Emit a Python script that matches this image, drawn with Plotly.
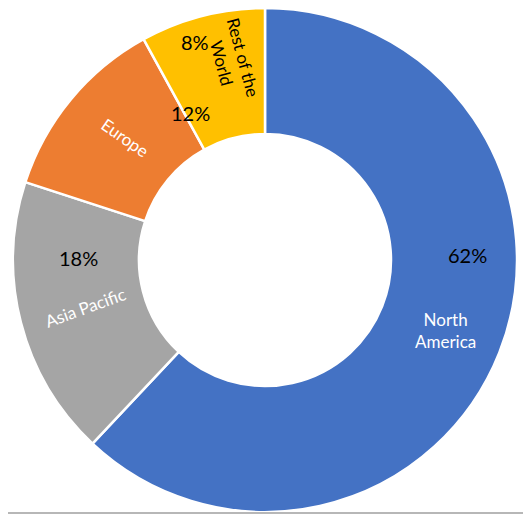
import plotly.graph_objects as go

regions = ['North America', 'Asia Pacific', 'Europe', 'Rest of the World']
shares = [62, 18, 12, 8]
colors = ['#4472C4', '#A5A5A5', '#ED7D31', '#FFC000']

W, H = 531, 514
OFF = 8  # page body margin


def px(x):
   return (x - OFF) / W


def py(y):
   return 1 - (y - OFF) / H


fig = go.Figure()
fig.add_trace(go.Pie(
   labels=regions,
   values=shares,
   hole=0.5,
   sort=False,
   direction='clockwise',
   rotation=0,
   marker=dict(colors=colors, line=dict(color='white', width=2.5)),
   textinfo='none',
   showlegend=False,
   domain=dict(x=[px(13), px(517)], y=[py(512), py(8)]),
))

# label positions (image pixels) for percent and name, plus angle of the name
pct_pos = [(467, 255), (78, 258), (190, 113), (195, 42)]
name_pos = [(445, 330, 0), (85, 307, -20), (125, 137, 35), (232, 60, 75)]
name_text = ['North<br>America', 'Asia Pacific', 'Europe', 'Rest of the<br>World']
name_color = ['white', 'white', 'white', 'black']

annotations = []
for i in range(len(regions)):
   annotations.append(dict(
      x=px(pct_pos[i][0]), y=py(pct_pos[i][1]), xref='paper', yref='paper',
      xanchor='center', yanchor='middle',
      text=f'{shares[i]}%', showarrow=False,
      font=dict(size=20, color='black', family='Lato'),
   ))
   annotations.append(dict(
      x=px(name_pos[i][0]), y=py(name_pos[i][1]), xref='paper', yref='paper',
      xanchor='center', yanchor='middle',
      text=name_text[i], showarrow=False, textangle=name_pos[i][2],
      font=dict(size=17, color=name_color[i], family='Lato'),
   ))

fig.update_layout(
   width=W, height=H,
   margin=dict(l=0, r=0, t=0, b=0),
   paper_bgcolor='white',
   annotations=annotations,
   shapes=[dict(type='rect', xref='paper', yref='paper',
                x0=px(0.5), y0=py(513), x1=px(530), y1=py(0.5),
                line=dict(color='#A0A0A0', width=1.5))],
)

fig.write_html('out.html')
